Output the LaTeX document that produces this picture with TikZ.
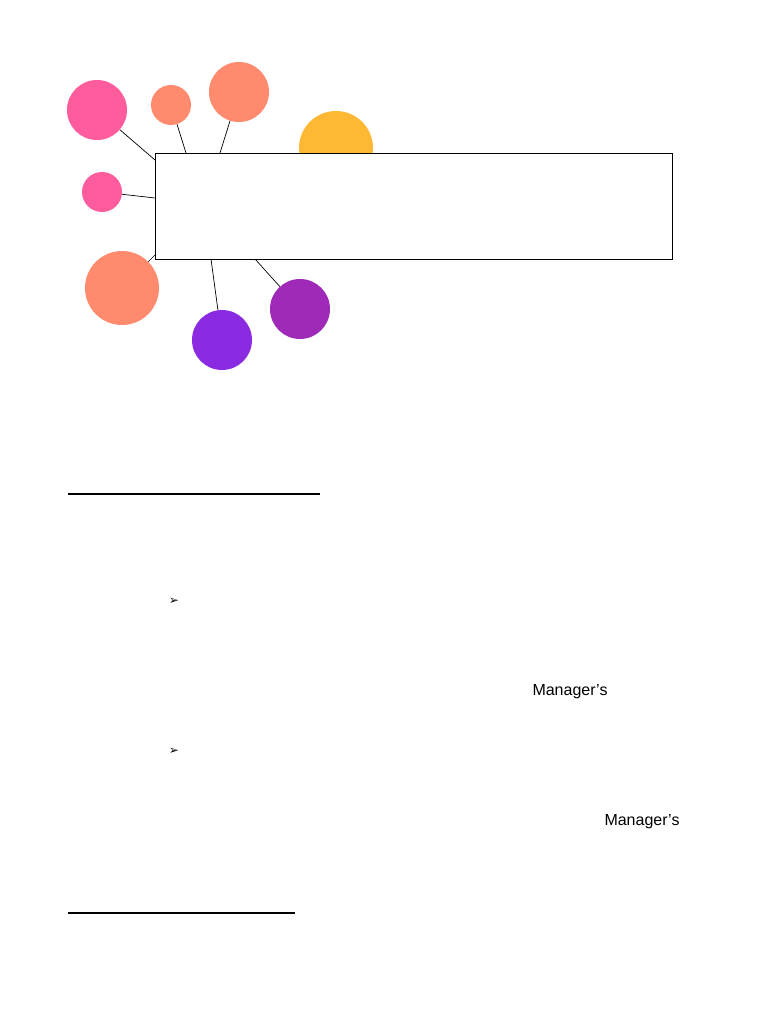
\documentclass[tikz,border=0pt]{standalone}
\usepackage{fontspec}
\setmainfont{Liberation Sans}
\newfontfamily\symfont{DejaVu Sans}
\definecolor{cpink}{HTML}{FF5C9E}
\definecolor{corange}{HTML}{FF8A6E}
\definecolor{cyellow}{HTML}{FFB833}
\definecolor{cpurple}{HTML}{A02AB8}
\definecolor{cviolet}{HTML}{8A2BE2}
\tikzset{bub/.style={circle,inner sep=0pt,draw=none},
 link/.style={draw=black,line width=0.7pt},
 txt/.style={inner sep=0pt,font=\fontsize{16}{19}\selectfont}}
\begin{document}
\begin{tikzpicture}[x=1pt,y=-1pt]
\useasboundingbox[fill=white] (0,0) rectangle (768,1024);
\node[bub,fill=cpink,minimum size=60pt] (p1) at (97,110) {};
\node[bub,fill=corange,minimum size=40pt] (o1) at (171,105) {};
\node[bub,fill=corange,minimum size=60pt] (o2) at (239,92) {};
\node[bub,fill=cyellow,minimum size=74pt] (y1) at (336,148) {};
\node[bub,fill=cpink,minimum size=40pt] (p2) at (102,192) {};
\node[bub,fill=corange,minimum size=74pt] (o3) at (122,288) {};
\node[bub,fill=cviolet,minimum size=60pt] (v1) at (222,340) {};
\node[bub,fill=cpurple,minimum size=60pt] (u1) at (300,309) {};
\coordinate (a1) at (155,160);
\coordinate (a2) at (186,153);
\coordinate (a3) at (220,153);
\coordinate (a4) at (155,198);
\coordinate (a5) at (155,255);
\coordinate (a6) at (211,259);
\coordinate (a7) at (255,259);
\draw[link] (p1) -- (a1);
\draw[link] (o1) -- (a2);
\draw[link] (o2) -- (a3);
\draw[link] (p2) -- (a4);
\draw[link] (o3) -- (a5);
\draw[link] (v1) -- (a6);
\draw[link] (u1) -- (a7);
\node[draw=black,fill=white,line width=0.7pt,minimum width=517pt,minimum height=106pt,inner sep=0pt,anchor=north west] (box) at (155,153) {};
\coordinate (l1a) at (68,494); \coordinate (l1b) at (320,494);
\coordinate (l2a) at (68,913); \coordinate (l2b) at (295,913);
\draw[line width=2pt] (l1a) -- (l1b);
\draw[line width=2pt] (l2a) -- (l2b);
\node[txt,font=\symfont\fontsize{12}{14}\selectfont] (b1) at (174,601) {➢};
\node[txt,font=\symfont\fontsize{12}{14}\selectfont] (b2) at (174,751) {➢};
\node[txt] (m1) at (570,692) {Manager’s};
\node[txt] (m2) at (642,822) {Manager’s};
\end{tikzpicture}
\end{document}
